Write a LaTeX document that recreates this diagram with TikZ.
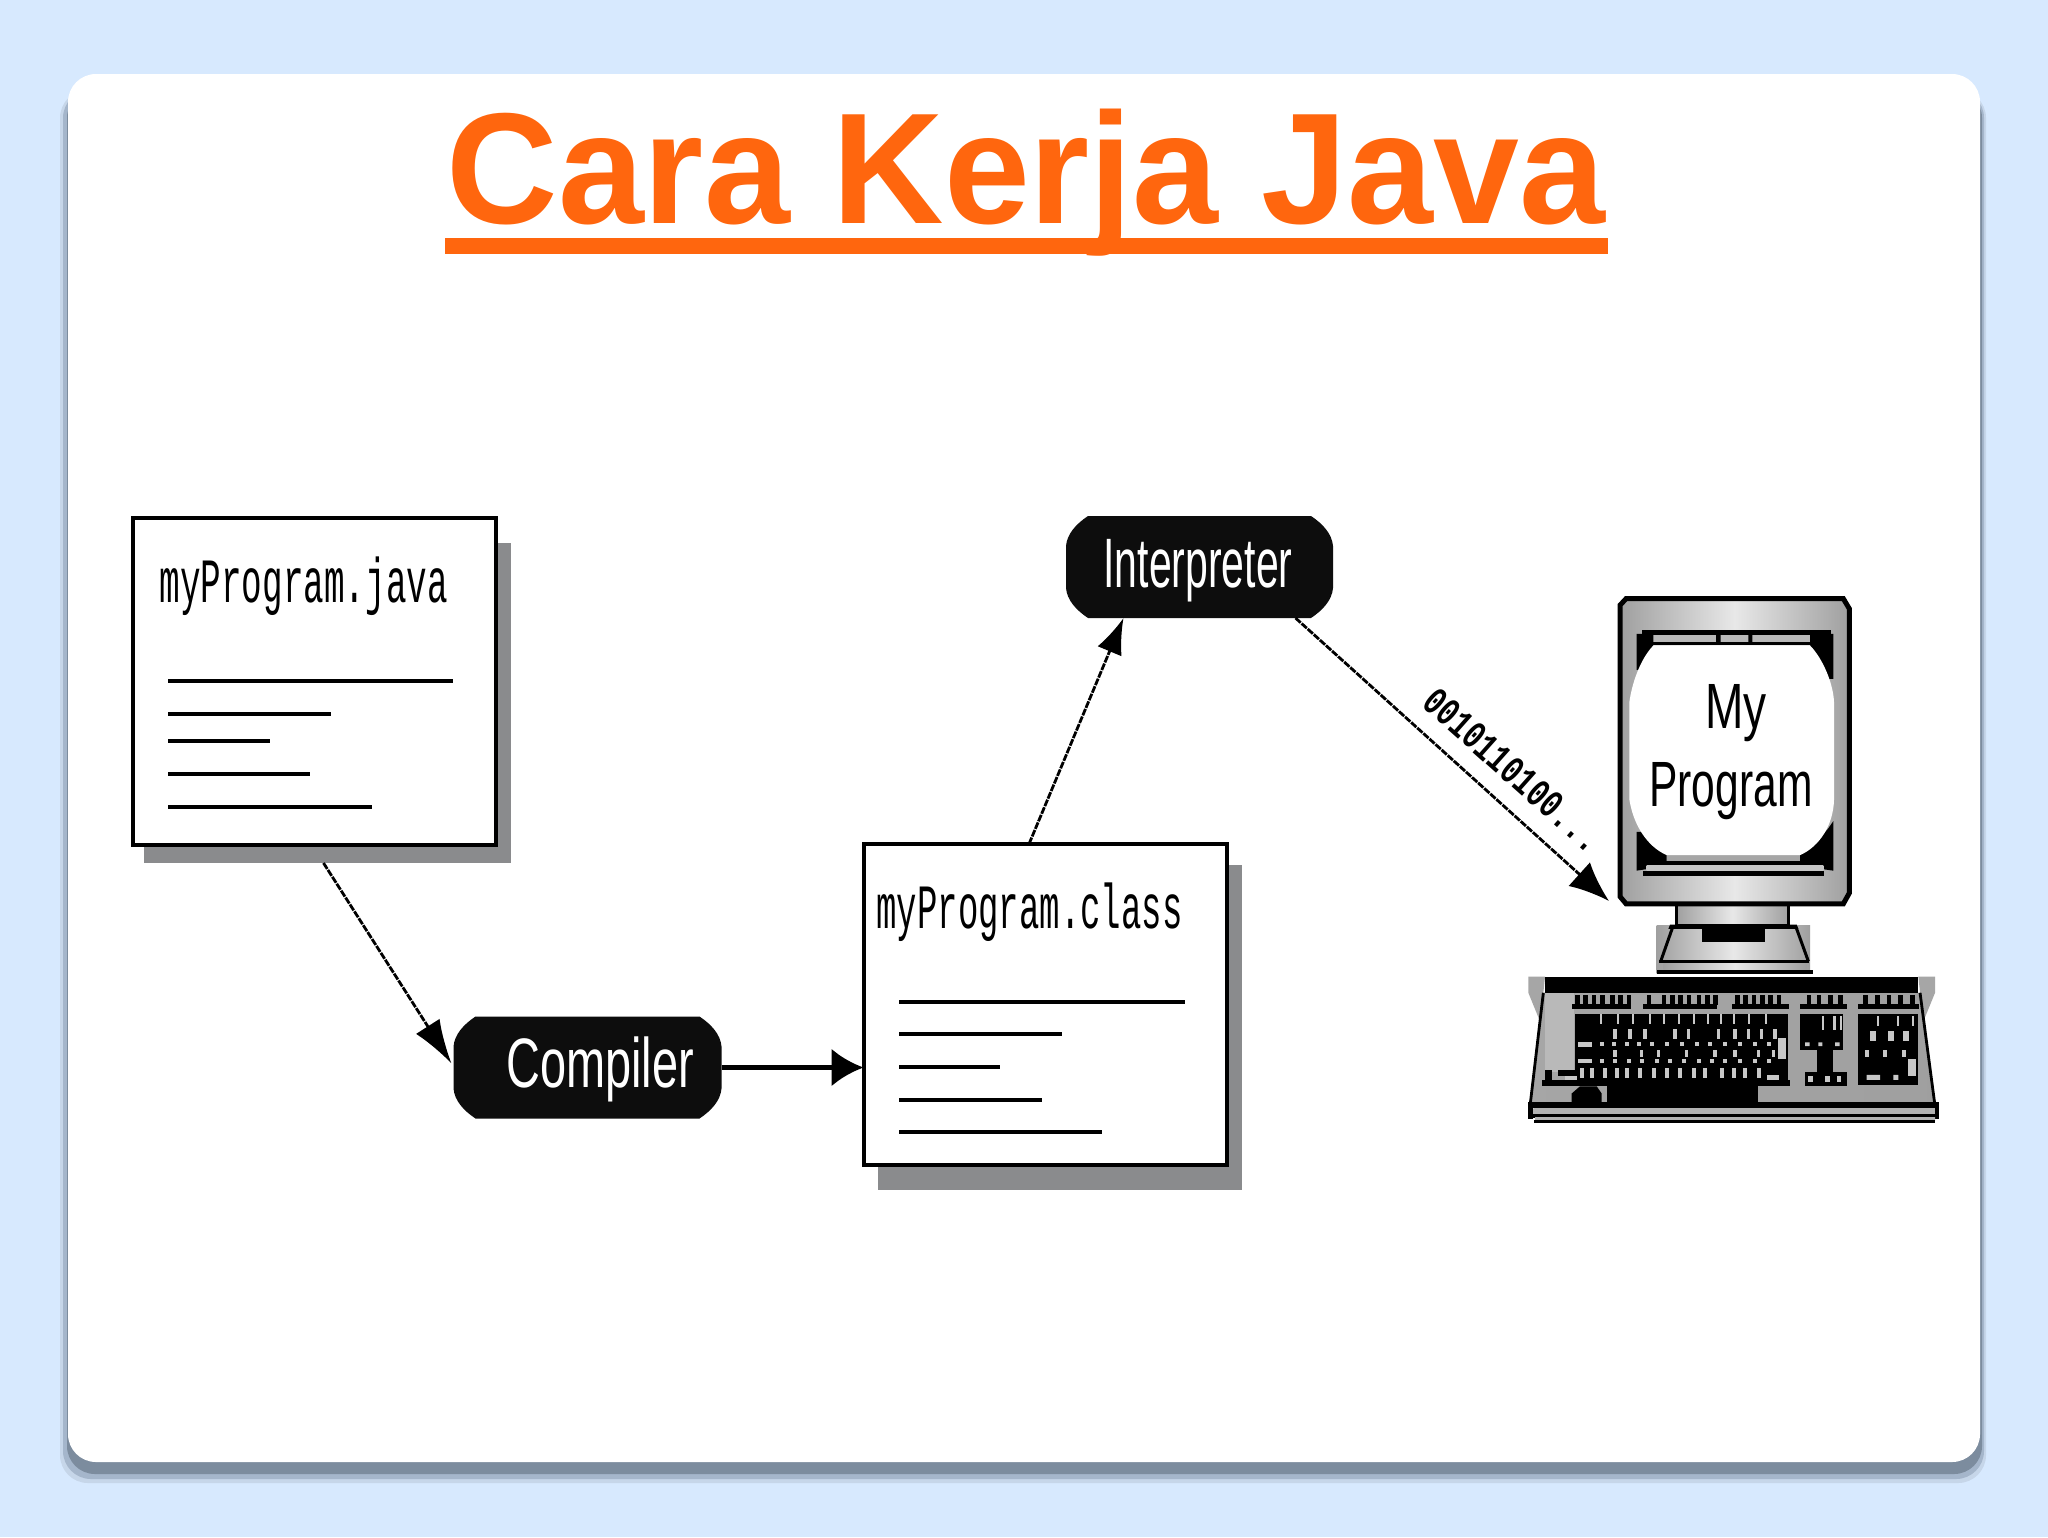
\documentclass[tikz,border=0pt]{standalone}
\usepackage{fontspec}
\usepackage{graphicx}
\setmainfont{Liberation Sans}
\newfontfamily\monofam{Liberation Mono}
\usetikzlibrary{arrows.meta,calc}
\definecolor{pagebg}{HTML}{D7E9FE}
\definecolor{orangetitle}{HTML}{FF660E}
\definecolor{shadegray}{HTML}{8A8B8D}
\definecolor{cellgray}{HTML}{C8C8C8}
\definecolor{cardshadeA}{HTML}{C6D6E9}
\definecolor{cardshadeB}{HTML}{A5B6CB}
\definecolor{cardshadeC}{HTML}{7C8C9E}
\newcommand{\procfill}[1]{%
  \fill[black!95] ($(#1.north west)+(22,0)$) -- ($(#1.north east)+(-22,0)$)
    .. controls ($(#1.north east)+(-10,8)$) and ($(#1.north east)+(-1,18)$) .. ($(#1.north east)+(0,30)$)
    -- ($(#1.south east)+(0,-30)$)
    .. controls ($(#1.south east)+(-1,-18)$) and ($(#1.south east)+(-10,-8)$) .. ($(#1.south east)+(-22,0)$)
    -- ($(#1.south west)+(22,0)$)
    .. controls ($(#1.south west)+(10,-8)$) and ($(#1.south west)+(1,-18)$) .. ($(#1.south west)+(0,-30)$)
    -- ($(#1.north west)+(0,30)$)
    .. controls ($(#1.north west)+(1,18)$) and ($(#1.north west)+(10,8)$) .. ($(#1.north west)+(22,0)$) -- cycle;}
\tikzset{
  docbox/.style={draw=black,line width=2pt,fill=white,inner sep=0pt,outer sep=0pt},
  docshadow/.style={fill=shadegray,inner sep=0pt,outer sep=0pt},
  procbox/.style={inner sep=0pt,outer sep=0pt,minimum width=134pt,minimum height=51pt},
  proclabel/.style={text=white,anchor=base,inner sep=0pt,font=\fontsize{35}{35}\selectfont},
  filelabel/.style={anchor=base west,inner sep=0pt,font=\monofam\fontsize{31.5}{32}\selectfont},
  textline/.style={line width=2.4pt,black},
  thinarrow/.style={line width=1.4pt,black,dash pattern=on 3.5pt off 0.6pt},
  metal/.style={left color=gray!75,right color=gray!75,middle color=gray!18},
}
\begin{document}
\begin{tikzpicture}[x=0.5pt,y=-0.5pt]
\useasboundingbox (0,0) rectangle (2048,1537);
\fill[pagebg] (0,0) rectangle (2048,1537);
% card shadow
\fill[cardshadeA,rounded corners=14pt] (60,90) rectangle (1986,1483);
\fill[cardshadeB,rounded corners=14pt] (63,90) rectangle (1984,1479);
\fill[cardshadeC,rounded corners=14pt] (67,90) rectangle (1982,1474);
% card
\fill[white,rounded corners=14pt] (68,74) rectangle (1980,1462);
% title
\node[anchor=base,inner sep=0pt,text=orangetitle,font=\bfseries\fontsize{79}{79}\selectfont] (title) at (1026,223) {\scalebox{0.977}[1]{Cara Kerja Java}};
\fill[orangetitle] (445,238) rectangle (1608,254);
% java file
\node[docshadow,minimum width=183.5pt,minimum height=160pt] (javashadow) at (327.5,703) {};
\node[docbox,minimum width=181.5pt,minimum height=163.5pt] (javabox) at (314.5,681.5) {};
\node[filelabel] (javalabel) at (159,602) {\scalebox{0.545}[1]{myProgram.java}};
\foreach \yy/\xx in {681/453,714/331,741/270,774/310,807/372}
  \draw[textline] (168,\yy) -- (\xx,\yy);
% class file
\node[docshadow,minimum width=182pt,minimum height=162.5pt] (classshadow) at (1060,1027.5) {};
\node[docbox,minimum width=181.5pt,minimum height=160.5pt] (classbox) at (1045,1004.5) {};
\node[filelabel] (classlabel) at (876,928) {\scalebox{0.54}[1]{myProgram.class}};
\foreach \yy/\xx in {1002/1185,1034/1062,1067/1000,1100/1042,1132/1102}
  \draw[textline] (899,\yy) -- (\xx,\yy);
% processes
\node[procbox] (compiler) at (587.5,1067.5) {};
\procfill{compiler}
\node[proclabel] (compilerlabel) at (600,1087) {\scalebox{0.67}[1]{Compiler}};
\node[procbox,minimum width=133.5pt] (interp) at (1199.5,567) {};
\procfill{interp}
\node[proclabel] (interplabel) at (1198,587) {\scalebox{0.585}[1]{Interpreter}};
% monitor in zoom coordinates
\node[inner sep=0pt,outer sep=0pt,minimum width=115.5pt,minimum height=153.5pt] (monitor) at (1734.5,751.5) {};
\begin{scope}[shift={(1500,580)},x=0.16667pt,y=-0.17986pt]
  % stand
  \shade[metal] (470,960) rectangle (930,1095);
  \shade[metal,draw=black,line width=1.5pt] (530,900) -- (865,900) -- (865,960) -- (530,960) -- cycle;
  \fill[black] (510,958) -- (890,958) -- (895,970) -- (505,970) -- cycle;
  \fill[black] (605,965) rectangle (795,1005);
  \draw[black,line width=1.5pt] (518,965) -- (482,1060) (888,965) -- (925,1060);
  \fill[black] (478,1055) rectangle (928,1066);
  \shade[metal] (490,1066) rectangle (920,1084);
  \fill[black] (470,1084) rectangle (938,1096);
  % bezel
  \shade[metal,draw=black,line width=2.5pt] (378,52) -- (1030,52) -- (1048,80) -- (1048,870) -- (1030,900) -- (378,900) -- (360,880) -- (360,70) -- cycle;
  % black corners and strips
  \fill[black] (425,140) rectangle (992,180);
  \shade[left color=gray!55,middle color=gray!10,right color=gray!55] (430,155) rectangle (985,170);
  \fill[black] (648,150) rectangle (662,175) (745,150) rectangle (757,175);
  \fill[black] (410,150) -- (460,150) -- (460,190) -- (425,250) -- (410,250) -- cycle;
  \fill[black] (1000,150) -- (930,150) -- (930,190) -- (985,275) -- (1000,275) -- cycle;
  \fill[black] (410,700) -- (425,700) -- (460,740) -- (500,755) -- (500,795) -- (410,808) -- cycle;
  \fill[black] (1000,670) -- (985,690) -- (940,740) -- (900,755) -- (900,795) -- (1000,808) -- cycle;
  \fill[gray!70] (500,762) rectangle (900,782);
  \fill[black] (420,780) rectangle (990,795);
  \shade[left color=gray!45,middle color=gray!8,right color=gray!45] (440,795) rectangle (970,808);
  \fill[black] (430,808) rectangle (972,822);
  % screen
  \fill[white] (460,182) -- (930,182) .. controls (970,220) and (1000,290) .. (1002,340) -- (1002,610) .. controls (1000,680) and (960,740) .. (900,765) -- (500,765) .. controls (440,740) and (400,680) .. (388,610) -- (388,340) .. controls (395,290) and (420,220) .. (460,182) -- cycle;
\end{scope}
\begin{scope}[shift={(1500,575.5)},x=0.16667pt,y=-0.17986pt]
  % keyboard
  \fill[gray!70] (85,1115) -- (135,1115) -- (130,1160) -- (118,1235) -- (85,1160) -- cycle;
  \fill[gray!70] (1305,1115) -- (1255,1115) -- (1260,1160) -- (1272,1235) -- (1305,1160) -- cycle;
  \shade[left color=gray!70,middle color=gray!15,right color=gray!75] (130,1160) -- (1260,1160) -- (1305,1475) -- (90,1475) -- cycle;
  \fill[gray!55] (135,1160) rectangle (222,1380);
  \draw[black,line width=1.4pt] (130,1160) -- (90,1475) (1260,1160) -- (1305,1475);
  \fill[black] (135,1115) rectangle (1255,1160);
  % function row
  \foreach \xa/\xb in {215/392,430/652,695/868,900/1040,1075/1258}
    \fill[black] (\xa,1190) rectangle (\xb,1206);
  \foreach \xa in {225,250,275,300,330,355,380,440,485,510,535,560,590,615,640,705,730,755,780,805,830,920,950,985,1015,1090,1125,1160,1195,1230}
    \fill[black] (\xa,1165) rectangle ++(14,30);
  % key blocks
  \fill[black] (225,1220) rectangle (865,1415);
  \fill[black] (900,1220) rectangle (1030,1320);
  \fill[black] (950,1320) rectangle (1000,1380);
  \fill[black] (915,1380) rectangle (1040,1418);
  \fill[black] (1075,1220) rectangle (1255,1415);
  \fill[black] (125,1403) rectangle (870,1418);
  \fill[black] (135,1375) rectangle (155,1405);
  \fill[black] (175,1375) rectangle (225,1390);
  % key gaps
  \foreach \xx in {300,350,396,446,490,535,578,620,660,700,745,795}
    \fill[cellgray] (\xx,1220) rectangle ++(6,28);
  \foreach \xx in {340,385,430,520,560,650,700,740,780,820}
    \fill[cellgray] (\xx,1262) rectangle ++(10,26);
  \foreach \xx in {300,335,375,410,450,495,540,585,625,670,715,760,800}
    \fill[cellgray] (\xx,1298) rectangle ++(12,9);
  \fill[cellgray] (235,1298) rectangle (275,1310);
  \fill[cellgray] (835,1285) rectangle (858,1345);
  \foreach \xx in {340,420,470,555,640,700,770,815}
    \fill[cellgray] (\xx,1318) rectangle ++(10,20);
  \foreach \xx in {300,340,380,420,465,505,545,590,630,670,715,760,800}
    \fill[cellgray] (\xx,1345) rectangle ++(12,9);
  \fill[cellgray] (235,1343) rectangle (275,1356);
  \foreach \xx in {240,270,310,345,375,415,455,495,535,575,610,660,695,730,770}
    \fill[cellgray] (\xx,1368) rectangle ++(12,28);
  \fill[cellgray] (800,1388) rectangle (838,1403);
  \fill[cellgray] (195,1390) rectangle (230,1402);
  \foreach \xx in {925,975,1010}
    \fill[cellgray] (\xx,1392) rectangle ++(14,16);
  \foreach \xx in {965,1000,1020}
    \fill[cellgray] (\xx,1225) rectangle ++(7,38);
  \fill[cellgray] (915,1298) rectangle ++(14,10) (955,1298) rectangle ++(12,10) (1005,1298) rectangle ++(14,10);
  \foreach \xx in {1130,1190,1235}
    \fill[cellgray] (\xx,1225) rectangle ++(7,28);
  \foreach \xx in {1110,1165,1210}
    \fill[cellgray] (\xx,1265) rectangle ++(18,28);
  \foreach \xx in {1095,1150,1205}
    \fill[cellgray] (\xx,1318) rectangle ++(12,20);
  \fill[cellgray] (1225,1345) rectangle (1248,1390);
  \fill[cellgray] (1100,1388) rectangle (1140,1402) (1180,1388) rectangle (1195,1402);
  % space row
  \fill[black] (215,1440) -- (240,1420) -- (290,1420) -- (305,1440) -- (305,1465) -- (215,1465) -- cycle;
  \fill[black] (320,1420) rectangle (775,1465);
  % keyboard base
  \fill[black] (85,1465) rectangle (1315,1480);
  \shade[left color=gray!60,middle color=gray!10,right color=gray!60] (100,1482) rectangle (1310,1497);
  \fill[black] (85,1480) rectangle (100,1510);
  \fill[black] (1305,1465) rectangle (1318,1510);
  \fill[black] (100,1497) rectangle (1308,1508);
  \shade[left color=gray!60,middle color=gray!10,right color=gray!60] (105,1508) rectangle (1305,1515);
  \fill[black] (103,1515) rectangle (1306,1523);
\end{scope}
\node[anchor=base,inner sep=0pt,font=\fontsize{32}{32}\selectfont] (mylabel) at (1736,728) {\scalebox{0.72}[1]{My}};
\node[anchor=base,inner sep=0pt,font=\fontsize{32}{32}\selectfont] (programlabel) at (1731,806) {\scalebox{0.665}[1]{Program}};
\node[inner sep=0pt,rotate=-41.7,font=\monofam\bfseries\fontsize{20}{20}\selectfont] (binary) at (1513,770) {\scalebox{0.72}[1]{0010110100...}};
% connectors
\draw[thinarrow,-{Latex[length=22pt,width=14pt]}] ([xshift=-2pt]javashadow.south) -- ([xshift=-1pt,yshift=-23.5pt]compiler.north west);
\draw[line width=2.4pt,black,-{Latex[length=16pt,width=19pt]}] (compiler.east) -- (compiler.east -| classbox.west);
\draw[thinarrow,-{Latex[length=18pt,width=13pt]}] ([xshift=-8pt]classbox.north) -- ([xshift=-38pt]interp.south);
\draw[thinarrow,-{Latex[length=20pt,width=16pt]}] ([xshift=48pt]interp.south) -- ([xshift=-5pt,yshift=2pt]monitor.south west);
\end{tikzpicture}
\end{document}
